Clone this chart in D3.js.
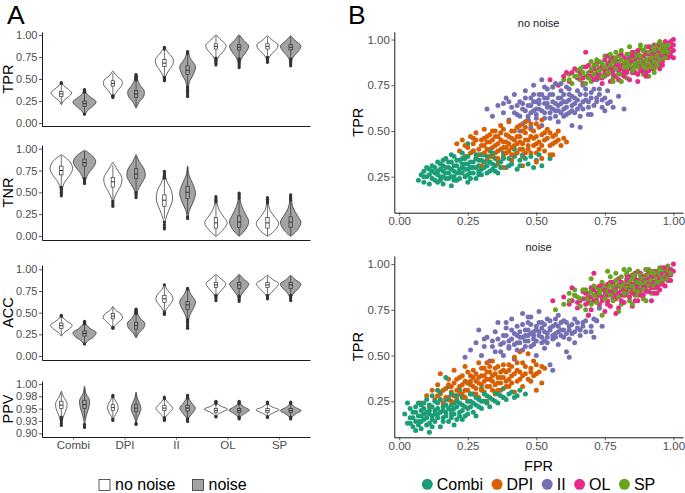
<!DOCTYPE html>
<html>
<head>
<meta charset="utf-8">
<script src="https://cdn.jsdelivr.net/npm/d3@7"></script>
<style>
    body { margin: 0; background: #fff; }
    svg { display: block; }
    text { font-family: "Liberation Sans", Arial, sans-serif; }
</style>
</head>
<body>
<div id="chart"></div>
<script>
'use strict';

/* ---------------- data ---------------- */
const methods = ['Combi', 'DPI', 'II', 'OL', 'SP'];
const conditions = ['no noise', 'noise'];
const unitTicks = [0, 0.25, 0.5, 0.75, 1];
const ppvTicks = [0.9, 0.925, 0.95, 0.975, 1];
const ppvTickLabels = ['0.90', '0.93', '0.95', '0.98', '1.00'];
const fprTicks = [0, 0.25, 0.5, 0.75, 1];
const tprTicks = [0.25, 0.5, 0.75, 1];

// Violins, order: Combi no noise, Combi noise, DPI no noise, DPI noise, ...
// lo/hi = extent, dens = density at 7 even steps lo..hi (1 = widest),
// box = q1, median, q3, whisk = whisker ends, out = outliers
const tprViolins = [
    {lo: .21, hi: .47, dens: [.02, .2, .6, .89, .6, .18, .02], box: [.30, .33, .36], whisk: [.22, .44], out: [.45, .46]},
    {lo: .09, hi: .39, dens: [.02, .25, .7, 1, .55, .15, .02], box: [.19, .22, .25], whisk: [.11, .34], out: [.10, .35, .36, .37, .38]},
    {lo: .28, hi: .59, dens: [.02, .2, .5, .8, .75, .3, .02], box: [.42, .45, .48], whisk: [.33, .57], out: [.29, .30, .31]},
    {lo: .17, hi: .56, dens: [.03, .25, .65, .7, .35, .12, .03], box: [.29, .33, .37], whisk: [.19, .48], out: [.49, .50, .51, .52, .53, .54, .55]},
    {lo: .47, hi: .86, dens: [.02, .12, .4, .72, .75, .35, .03], box: [.64, .68, .72], whisk: [.53, .83], out: [.48, .49, .50, .51, .52, .84, .86]},
    {lo: .29, hi: .82, dens: [.02, .06, .15, .5, .68, .25, .03], box: [.55, .60, .65], whisk: [.42, .78], out: [.30, .32, .34, .36, .38, .40, .41, .79, .80, .81]},
    {lo: .65, hi: 1.0, dens: [.02, .08, .3, .7, .88, .45, .03], box: [.84, .87, .90], whisk: [.76, .99], out: [.66, .68, .70, .72, .74]},
    {lo: .63, hi: 1.0, dens: [.02, .08, .3, .65, .82, .4, .03], box: [.83, .86, .89], whisk: [.74, .99], out: [.63, .65, .67, .69, .71, .73]},
    {lo: .68, hi: .99, dens: [.02, .1, .35, .75, .92, .45, .03], box: [.84, .87, .90], whisk: [.77, .98], out: [.69, .71, .73, .75]},
    {lo: .65, hi: .99, dens: [.02, .08, .3, .7, .88, .42, .03], box: [.83, .86, .89], whisk: [.75, .98], out: [.65, .67, .69, .71, .73]}
];
const tnrViolins = [
    {lo: .45, hi: .93, dens: [.02, .08, .25, .7, .97, .75, .03], box: [.70, .75, .80], whisk: [.58, .92], out: [.46, .48, .50, .52, .54, .56]},
    {lo: .59, hi: .98, dens: [.02, .12, .35, .75, .97, .7, .03], box: [.80, .84, .88], whisk: [.68, .97], out: [.60, .62, .64, .66]},
    {lo: .33, hi: .84, dens: [.02, .08, .35, .7, .77, .4, .03], box: [.56, .62, .67], whisk: [.42, .81], out: [.34, .36, .38, .40]},
    {lo: .43, hi: .93, dens: [.02, .12, .45, .78, .7, .3, .02], box: [.66, .71, .77], whisk: [.52, .92], out: [.44, .46, .48, .50]},
    {lo: .08, hi: .74, dens: [.02, .1, .4, .69, .6, .2, .02], box: [.34, .41, .47], whisk: [.20, .64], out: [.08, .10, .13, .16, .66, .68, .70, .72, .74]},
    {lo: .19, hi: .80, dens: [.02, .15, .5, .68, .45, .12, .02], box: [.43, .50, .57], whisk: [.25, .78], out: [.20, .22]},
    {lo: 0, hi: .46, dens: [.05, .65, .97, .6, .25, .08, .02], box: [.09, .15, .21], whisk: [0, .38], out: [.39, .41, .43, .45]},
    {lo: 0, hi: .50, dens: [.05, .6, .83, .55, .25, .08, .02], box: [.10, .16, .23], whisk: [0, .42], out: [.43, .45, .47, .49]},
    {lo: 0, hi: .44, dens: [.05, .7, .97, .6, .22, .08, .02], box: [.09, .15, .21], whisk: [0, .37], out: [.38, .40, .42, .44]},
    {lo: 0, hi: .48, dens: [.05, .65, .88, .55, .22, .08, .02], box: [.10, .16, .22], whisk: [0, .40], out: [.41, .43, .45, .47]}
];
const accViolins = [
    {lo: .23, hi: .48, dens: [.02, .25, .7, .93, .55, .15, .02], box: [.32, .35, .38], whisk: [.24, .45], out: [.46, .47]},
    {lo: .13, hi: .41, dens: [.02, .3, .8, 1, .5, .15, .02], box: [.23, .26, .29], whisk: [.15, .36], out: [.14, .37, .38, .39, .40]},
    {lo: .31, hi: .57, dens: [.02, .2, .55, .83, .7, .25, .02], box: [.43, .46, .49], whisk: [.34, .56], out: [.32, .33]},
    {lo: .21, hi: .55, dens: [.02, .25, .65, .75, .35, .12, .03], box: [.31, .35, .39], whisk: [.22, .48], out: [.49, .50, .51, .52, .53, .54]},
    {lo: .47, hi: .83, dens: [.02, .12, .45, .73, .6, .2, .02], box: [.62, .66, .70], whisk: [.53, .80], out: [.48, .49, .50, .51, .82]},
    {lo: .31, hi: .79, dens: [.02, .06, .18, .5, .68, .3, .03], box: [.54, .59, .63], whisk: [.43, .76], out: [.32, .34, .36, .38, .40, .42, .77, .78]},
    {lo: .63, hi: .94, dens: [.02, .08, .3, .65, .85, .45, .03], box: [.79, .82, .85], whisk: [.71, .93], out: [.64, .66, .68, .70]},
    {lo: .62, hi: .94, dens: [.02, .08, .3, .62, .83, .4, .03], box: [.78, .82, .85], whisk: [.70, .93], out: [.63, .65, .67, .69]},
    {lo: .65, hi: .93, dens: [.02, .1, .4, .75, .96, .45, .03], box: [.79, .82, .85], whisk: [.72, .92], out: [.66, .68, .70]},
    {lo: .64, hi: .93, dens: [.02, .1, .35, .7, .88, .4, .03], box: [.78, .82, .85], whisk: [.71, .92], out: [.64, .66, .68, .70]}
];
const ppvViolins = [
    {lo: .915, hi: .985, dens: [.02, .08, .25, .45, .48, .2, .02], box: [.950, .957, .965], whisk: [.935, .982], out: [.916, .920, .925, .928, .931, .933]},
    {lo: .912, hi: .995, dens: [.02, .06, .2, .38, .42, .12, .02], box: [.950, .958, .967], whisk: [.930, .990], out: [.912, .915, .918]},
    {lo: .925, hi: .979, dens: [.02, .12, .35, .46, .35, .12, .02], box: [.946, .952, .958], whisk: [.932, .972], out: [.926, .929, .974, .977]},
    {lo: .917, hi: .983, dens: [.02, .08, .28, .42, .3, .1, .02], box: [.944, .951, .959], whisk: [.925, .980], out: [.918, .920]},
    {lo: .925, hi: .976, dens: [.02, .12, .45, .72, .45, .12, .02], box: [.946, .951, .956], whisk: [.935, .968], out: [.926, .928, .930, .932, .970, .973]},
    {lo: .923, hi: .979, dens: [.02, .12, .45, .67, .4, .12, .02], box: [.945, .951, .957], whisk: [.933, .968], out: [.924, .927, .930, .971, .974, .977]},
    {lo: .932, hi: .966, dens: [.02, .15, .55, 1, .45, .12, .02], box: [.942, .946, .950], whisk: [.936, .958], out: [.933, .934, .960, .963, .965]},
    {lo: .928, hi: .966, dens: [.02, .15, .5, .88, .45, .12, .02], box: [.942, .946, .950], whisk: [.935, .958], out: [.929, .931, .933, .960, .963, .965]},
    {lo: .931, hi: .964, dens: [.02, .15, .55, 1, .45, .12, .02], box: [.942, .946, .950], whisk: [.936, .957], out: [.932, .934, .960, .963]},
    {lo: .928, hi: .964, dens: [.02, .15, .5, .9, .45, .12, .02], box: [.942, .946, .950], whisk: [.935, .957], out: [.929, .931, .933, .960, .963]}
];

// Scatter points [FPR, TPR] (a sample of each)
const combiNoNoise = [[.07,.23],[.08,.26],[.09,.28],[.10,.25],[.09,.22],[.11,.29],[.12,.24],[.12,.31],[.13,.27],[.14,.22],[.14,.33],[.15,.29],[.15,.25],[.16,.31],[.16,.21],[.17,.27],[.17,.35],[.18,.24],[.18,.30],[.19,.33],[.19,.20],[.20,.28],[.20,.36],[.20,.25],[.21,.31],[.21,.23],[.22,.34],[.22,.27],[.23,.38],[.23,.30],[.24,.25],[.24,.32],[.25,.29],[.25,.36],[.25,.22],[.26,.33],[.26,.27],[.27,.30],[.27,.39],[.28,.24],[.28,.35],[.29,.31],[.29,.28],[.30,.34],[.30,.26],[.31,.37],[.31,.30],[.32,.27],[.33,.33],[.33,.40],[.34,.29],[.35,.35],[.35,.31],[.36,.27],[.37,.33],[.38,.38],[.39,.30],[.40,.35],[.41,.32],[.42,.40],[.43,.29],[.44,.34],[.45,.37],[.47,.32],[.48,.36],[.50,.34],[.52,.31],[.55,.35],[.25,.43],
    [.10,.30],[.11,.26],[.12,.28],[.13,.23],[.13,.30],[.14,.26],[.15,.32],[.15,.23],[.16,.28],[.16,.34],[.17,.24],[.17,.30],[.18,.27],[.18,.33],[.19,.25],[.19,.29],[.20,.31],[.20,.23],[.21,.27],[.21,.34],[.22,.29],[.22,.24],[.23,.32],[.23,.27],[.24,.29],[.24,.35],[.25,.26],[.25,.32],[.26,.30],[.26,.24],[.27,.33],[.27,.27],[.28,.30],[.28,.37],[.29,.26],[.29,.34],[.30,.29],[.30,.37],[.31,.33],[.32,.31],[.32,.36],[.33,.28],[.34,.32],[.34,.38],[.35,.28],[.36,.34],[.37,.30],[.38,.35],[.40,.31],[.42,.36],[.44,.31],[.46,.35],[.49,.30],[.51,.37],[.09,.25],[.11,.21],[.16,.25],[.23,.35],[.19,.37],[.14,.28]];
const dpiNoNoise = [[.21,.43],[.22,.39],[.23,.45],[.24,.36],[.25,.41],[.26,.47],[.26,.38],[.27,.43],[.28,.35],[.28,.49],[.29,.40],[.30,.45],[.30,.37],[.31,.42],[.31,.51],[.32,.34],[.32,.47],[.33,.39],[.33,.44],[.34,.50],[.34,.36],[.35,.42],[.35,.47],[.36,.32],[.36,.39],[.37,.45],[.37,.53],[.38,.41],[.38,.36],[.39,.48],[.39,.44],[.40,.39],[.40,.55],[.41,.46],[.41,.34],[.42,.42],[.42,.50],[.43,.38],[.43,.47],[.44,.44],[.44,.53],[.45,.40],[.45,.36],[.46,.49],[.46,.45],[.47,.42],[.47,.56],[.48,.38],[.48,.51],[.49,.46],[.50,.43],[.50,.54],[.51,.40],[.52,.48],[.52,.35],[.53,.45],[.54,.51],[.55,.42],[.55,.37],[.56,.47],[.57,.44],[.58,.50],[.59,.42],[.60,.46],[.61,.44],[.45,.31],[.38,.30],[.30,.31],[.56,.37],[.50,.33],
    [.24,.42],[.27,.39],[.28,.45],[.29,.37],[.30,.42],[.31,.46],[.32,.40],[.32,.44],[.33,.36],[.33,.48],[.34,.41],[.34,.45],[.35,.38],[.35,.50],[.36,.43],[.36,.47],[.37,.40],[.37,.49],[.38,.44],[.38,.51],[.39,.38],[.39,.41],[.40,.47],[.40,.43],[.41,.50],[.41,.41],[.42,.37],[.42,.45],[.43,.52],[.43,.43],[.44,.40],[.44,.47],[.45,.43],[.45,.50],[.46,.38],[.46,.52],[.47,.45],[.47,.40],[.48,.47],[.48,.54],[.49,.42],[.49,.50],[.50,.47],[.50,.38],[.51,.44],[.51,.52],[.52,.42],[.53,.49],[.53,.39],[.54,.46],[.55,.49],[.56,.43],[.57,.48],[.58,.45],[.36,.35],[.41,.37],[.31,.38],[.27,.46],[.46,.55],[.52,.56]];
const iiNoNoise = [[.32,.62],[.34,.58],[.36,.64],[.38,.60],[.39,.68],[.40,.56],[.41,.63],[.42,.70],[.43,.59],[.44,.66],[.45,.62],[.45,.54],[.46,.72],[.47,.64],[.47,.58],[.48,.68],[.49,.61],[.49,.75],[.50,.57],[.50,.66],[.51,.70],[.51,.62],[.52,.78],[.52,.53],[.53,.65],[.53,.60],[.54,.73],[.54,.68],[.55,.63],[.55,.57],[.56,.70],[.56,.66],[.57,.61],[.57,.76],[.58,.64],[.58,.55],[.59,.68],[.59,.72],[.60,.62],[.60,.58],[.61,.66],[.61,.74],[.62,.70],[.62,.60],[.63,.64],[.63,.53],[.64,.68],[.65,.72],[.65,.62],[.66,.58],[.67,.66],[.67,.75],[.68,.70],[.69,.63],[.70,.68],[.70,.59],[.71,.73],[.72,.66],[.73,.70],[.74,.63],[.75,.68],[.76,.72],[.77,.66],[.78,.63],[.80,.69],[.82,.62],[.44,.50],[.48,.52],[.66,.52],[.72,.78],
    [.42,.60],[.43,.64],[.44,.58],[.45,.65],[.46,.61],[.46,.68],[.47,.56],[.48,.64],[.48,.60],[.49,.66],[.49,.70],[.50,.62],[.50,.59],[.51,.65],[.51,.67],[.52,.61],[.52,.70],[.53,.57],[.53,.68],[.54,.63],[.54,.65],[.55,.60],[.55,.70],[.56,.62],[.56,.74],[.57,.65],[.57,.58],[.58,.68],[.58,.61],[.59,.65],[.59,.60],[.60,.70],[.60,.66],[.61,.63],[.61,.59],[.62,.67],[.62,.73],[.63,.61],[.63,.69],[.64,.65],[.64,.60],[.65,.67],[.66,.70],[.66,.64],[.67,.62],[.68,.67],[.68,.73],[.69,.66],[.70,.71],[.71,.64],[.72,.68],[.73,.73],[.74,.67],[.76,.65],[.40,.66],[.38,.65],[.53,.74],[.59,.76],[.69,.59],[.75,.61]];
const olNoNoise = [[.55,.78],[.58,.75],[.60,.80],[.61,.82],[.62,.77],[.64,.84],[.65,.79],[.66,.81],[.67,.76],[.68,.93],[.68,.85],[.69,.80],[.70,.83],[.71,.78],[.72,.87],[.72,.81],[.73,.84],[.74,.79],[.75,.89],[.75,.82],[.76,.86],[.77,.77],[.77,.84],[.78,.90],[.78,.81],[.79,.87],[.80,.83],[.80,.78],[.81,.92],[.81,.86],[.82,.80],[.83,.89],[.83,.84],[.84,.87],[.84,.78],[.85,.93],[.85,.82],[.86,.89],[.86,.85],[.87,.81],[.88,.91],[.88,.86],[.89,.94],[.89,.83],[.90,.89],[.90,.80],[.91,.92],[.91,.86],[.92,.95],[.92,.84],[.93,.89],[.93,.97],[.94,.91],[.94,.86],[.95,.94],[.95,.88],[.96,.97],[.96,.92],[.97,.90],[.97,.95],[.98,.98],[.98,.93],[.99,.96],[1.0,1.0],[1.0,.94],[1.0,.90],[.99,.99],[.74,.76],[.87,.77],[.95,.84],
    [.66,.83],[.69,.86],[.70,.80],[.71,.84],[.73,.81],[.74,.86],[.75,.84],[.76,.81],[.77,.88],[.78,.83],[.79,.85],[.79,.80],[.80,.88],[.81,.84],[.82,.90],[.82,.82],[.83,.86],[.84,.84],[.84,.91],[.85,.89],[.86,.87],[.86,.82],[.87,.92],[.87,.85],[.88,.89],[.88,.83],[.89,.87],[.89,.91],[.90,.85],[.90,.93],[.91,.89],[.91,.83],[.92,.88],[.92,.92],[.93,.86],[.93,.93],[.94,.89],[.94,.94],[.95,.91],[.95,.97],[.96,.88],[.96,.94],[.97,.92],[.97,.99],[.98,.95],[.98,.90],[.99,.93],[1.0,.97],[.99,.91],[.76,.91],[.80,.86],[.83,.82],[.85,.91],[.72,.79],[.67,.79],[.63,.82],[.90,.82],[.96,.86],[.91,.96],[.87,.94]];
const spNoNoise = [[.56,.74],[.60,.78],[.62,.81],[.63,.76],[.65,.83],[.66,.78],[.67,.85],[.68,.80],[.69,.82],[.70,.77],[.71,.86],[.72,.83],[.73,.79],[.73,.88],[.74,.84],[.75,.80],[.76,.87],[.76,.83],[.77,.90],[.78,.85],[.78,.79],[.79,.88],[.80,.84],[.80,.91],[.81,.81],[.82,.87],[.82,.84],[.83,.92],[.83,.79],[.84,.89],[.85,.85],[.85,.88],[.86,.82],[.86,.93],[.87,.87],[.87,.90],[.88,.84],[.88,.95],[.89,.88],[.89,.81],[.90,.92],[.90,.86],[.91,.89],[.91,.80],[.92,.93],[.92,.87],[.93,.91],[.93,.84],[.94,.95],[.94,.89],[.95,.92],[.95,.86],[.96,.95],[.96,.90],[.97,.93],[.97,.97],[.98,.95],[.98,.91],[.79,.93],[.84,.96],[.70,.88],[.64,.80],[.75,.91],[.81,.77],[.90,.96],[.93,.82],[.68,.76],[.77,.82],[.86,.85],[.94,.97],
    [.62,.78],[.65,.80],[.67,.82],[.69,.79],[.70,.84],[.71,.81],[.72,.86],[.73,.83],[.74,.87],[.75,.85],[.76,.82],[.77,.86],[.78,.88],[.79,.84],[.80,.87],[.80,.81],[.81,.89],[.82,.85],[.83,.88],[.83,.85],[.84,.92],[.84,.86],[.85,.90],[.86,.87],[.86,.91],[.87,.85],[.87,.93],[.88,.88],[.88,.91],[.89,.86],[.89,.94],[.90,.89],[.90,.84],[.91,.93],[.91,.87],[.92,.90],[.92,.96],[.93,.88],[.93,.94],[.94,.91],[.94,.86],[.95,.95],[.95,.89],[.96,.93],[.96,.97],[.97,.90],[.97,.95],[.98,.93],[.98,.97],[.72,.89],[.77,.92],[.81,.94],[.66,.84],[.74,.80],[.79,.90],[.85,.83],[.92,.85],[.88,.97],[.78,.77],[.95,.99]];

const combiNoise = [[.02,.18],[.03,.13],[.04,.21],[.05,.16],[.05,.11],[.06,.19],[.07,.14],[.07,.24],[.08,.17],[.08,.10],[.09,.21],[.09,.15],[.10,.26],[.10,.19],[.11,.13],[.11,.23],[.12,.17],[.12,.28],[.13,.20],[.13,.14],[.14,.24],[.14,.18],[.15,.11],[.15,.30],[.16,.22],[.16,.16],[.17,.26],[.17,.19],[.18,.14],[.18,.33],[.19,.23],[.19,.18],[.20,.28],[.20,.21],[.21,.15],[.21,.25],[.22,.31],[.22,.19],[.23,.23],[.24,.27],[.24,.17],[.25,.21],[.25,.35],[.26,.25],[.27,.19],[.27,.29],[.28,.23],[.29,.26],[.30,.21],[.30,.32],[.31,.25],[.32,.28],[.33,.22],[.34,.26],[.35,.30],[.36,.24],[.37,.28],[.38,.32],[.39,.26],[.40,.29],[.42,.27],[.44,.31],[.46,.29],[.17,.38],[.11,.08],[.06,.09],[.03,.24],[.20,.12],[.14,.31],[.28,.17],
    [.04,.16],[.05,.19],[.06,.14],[.06,.22],[.07,.17],[.07,.12],[.08,.20],[.08,.14],[.09,.18],[.09,.24],[.10,.16],[.10,.12],[.11,.20],[.11,.18],[.12,.15],[.12,.22],[.13,.18],[.13,.25],[.14,.16],[.14,.21],[.15,.19],[.15,.26],[.16,.14],[.16,.20],[.17,.23],[.17,.17],[.18,.21],[.18,.26],[.19,.16],[.19,.20],[.20,.24],[.20,.18],[.21,.22],[.21,.28],[.22,.17],[.22,.24],[.23,.20],[.23,.27],[.24,.22],[.25,.25],[.25,.18],[.26,.22],[.26,.29],[.27,.24],[.28,.27],[.29,.22],[.30,.25],[.31,.29],[.32,.24],[.33,.27],[.35,.25],[.36,.29],[.38,.27],[.41,.30],[.43,.28],[.08,.23],[.04,.13],[.12,.11],[.19,.29],[.23,.15]];
const dpiNoise = [[.08,.24],[.10,.28],[.11,.22],[.12,.31],[.13,.26],[.14,.34],[.15,.29],[.15,.40],[.16,.24],[.17,.32],[.18,.37],[.18,.27],[.19,.30],[.20,.35],[.20,.42],[.21,.26],[.22,.33],[.22,.38],[.23,.29],[.24,.36],[.24,.44],[.25,.31],[.25,.25],[.26,.39],[.26,.34],[.27,.29],[.27,.42],[.28,.36],[.28,.32],[.29,.46],[.29,.27],[.30,.39],[.30,.34],[.31,.43],[.31,.30],[.32,.37],[.32,.25],[.33,.41],[.33,.33],[.34,.47],[.34,.36],[.35,.29],[.35,.40],[.36,.35],[.36,.44],[.37,.31],[.37,.38],[.38,.42],[.38,.27],[.39,.36],[.40,.45],[.40,.33],[.41,.39],[.42,.49],[.42,.30],[.43,.42],[.44,.37],[.45,.46],[.45,.33],[.46,.40],[.47,.51],[.48,.43],[.48,.36],[.49,.39],[.50,.45],[.51,.41],[.52,.35],[.53,.43],[.50,.31],[.44,.52],
    [.14,.28],[.16,.31],[.17,.27],[.18,.34],[.19,.33],[.20,.28],[.21,.31],[.21,.37],[.22,.29],[.23,.34],[.23,.39],[.24,.31],[.25,.35],[.25,.41],[.26,.29],[.26,.36],[.27,.33],[.27,.38],[.28,.40],[.28,.29],[.29,.35],[.29,.38],[.30,.31],[.30,.43],[.31,.36],[.31,.39],[.32,.33],[.32,.41],[.33,.37],[.33,.44],[.34,.31],[.34,.39],[.35,.34],[.35,.43],[.36,.38],[.36,.31],[.37,.41],[.37,.35],[.38,.45],[.38,.38],[.39,.33],[.39,.41],[.40,.37],[.40,.42],[.41,.35],[.41,.44],[.42,.40],[.43,.36],[.43,.46],[.44,.41],[.45,.39],[.46,.44],[.47,.37],[.48,.41],[.49,.47],[.50,.40],[.52,.44],[.19,.25],[.24,.27],[.32,.46]];
const iiNoise = [[.24,.49],[.26,.53],[.28,.57],[.29,.64],[.30,.50],[.31,.55],[.32,.60],[.33,.47],[.34,.58],[.35,.63],[.35,.52],[.36,.68],[.37,.56],[.38,.61],[.38,.50],[.39,.65],[.40,.58],[.40,.54],[.41,.70],[.42,.62],[.42,.48],[.43,.57],[.43,.66],[.44,.60],[.45,.73],[.45,.53],[.46,.64],[.46,.58],[.47,.68],[.47,.61],[.48,.55],[.48,.71],[.49,.63],[.49,.59],[.50,.66],[.50,.50],[.51,.61],[.51,.74],[.52,.57],[.52,.68],[.53,.63],[.53,.54],[.54,.70],[.54,.60],[.55,.65],[.55,.45],[.56,.59],[.57,.67],[.57,.62],[.58,.72],[.58,.56],[.59,.64],[.60,.69],[.60,.60],[.61,.52],[.62,.66],[.63,.62],[.64,.70],[.64,.57],[.65,.65],[.66,.61],[.67,.68],[.68,.63],[.69,.72],[.70,.66],[.71,.60],[.72,.69],[.73,.76],[.62,.49],[.56,.42],
    [.34,.55],[.36,.59],[.37,.52],[.38,.57],[.39,.61],[.40,.55],[.41,.59],[.41,.64],[.42,.56],[.43,.61],[.43,.53],[.44,.63],[.44,.57],[.45,.60],[.45,.67],[.46,.55],[.46,.61],[.47,.64],[.47,.58],[.48,.62],[.48,.67],[.49,.56],[.49,.61],[.50,.64],[.50,.58],[.51,.68],[.51,.63],[.52,.60],[.52,.65],[.53,.58],[.53,.67],[.54,.62],[.54,.57],[.55,.64],[.55,.69],[.56,.61],[.56,.66],[.57,.60],[.57,.70],[.58,.63],[.58,.66],[.59,.61],[.59,.68],[.60,.64],[.61,.62],[.61,.68],[.62,.64],[.62,.59],[.63,.67],[.64,.63],[.65,.68],[.66,.64],[.67,.66],[.68,.69],[.70,.63],[.71,.70],[.74,.66],[.31,.59],[.39,.68],[.47,.71]];
const olNoise = [[.56,.80],[.60,.82],[.62,.78],[.64,.83],[.65,.76],[.66,.80],[.67,.85],[.68,.78],[.69,.82],[.70,.75],[.70,.87],[.71,.95],[.71,.80],[.72,.84],[.72,.69],[.73,.78],[.74,.88],[.74,.82],[.75,.74],[.75,.85],[.76,.80],[.77,.90],[.77,.77],[.78,.84],[.78,.87],[.79,.81],[.80,.92],[.80,.76],[.81,.86],[.81,.83],[.82,.89],[.82,.79],[.83,.94],[.83,.85],[.84,.82],[.84,.90],[.85,.87],[.85,.77],[.86,.92],[.86,.84],[.87,.89],[.87,.80],[.88,.95],[.88,.86],[.89,.91],[.89,.83],[.90,.88],[.90,.97],[.91,.85],[.91,.93],[.92,.90],[.92,.80],[.93,.96],[.93,.87],[.94,.92],[.94,.84],[.95,.95],[.95,.89],[.96,.98],[.96,.92],[.97,.88],[.97,.95],[.98,.97],[.98,.91],[.99,.94],[1.0,1.0],[1.0,.96],[.69,.72],[.79,.73],[.63,.87],
    [.63,.80],[.65,.79],[.67,.81],[.68,.84],[.69,.79],[.70,.82],[.71,.86],[.72,.80],[.73,.83],[.73,.88],[.74,.80],[.75,.86],[.76,.83],[.76,.89],[.77,.85],[.78,.81],[.78,.90],[.79,.86],[.79,.83],[.80,.88],[.80,.84],[.81,.90],[.82,.86],[.82,.83],[.83,.88],[.83,.91],[.84,.86],[.84,.93],[.85,.89],[.85,.84],[.86,.88],[.86,.95],[.87,.91],[.87,.86],[.88,.89],[.88,.83],[.89,.93],[.89,.87],[.90,.91],[.90,.85],[.91,.89],[.91,.95],[.92,.87],[.92,.93],[.93,.90],[.93,.84],[.94,.94],[.94,.88],[.95,.92],[.95,.86],[.96,.95],[.96,.89],[.97,.93],[.97,.98],[.98,.94],[.99,.97],[.99,.91],[.76,.78],[.81,.80],[.86,.80]];
const spNoise = [[.57,.75],[.60,.78],[.62,.84],[.63,.80],[.65,.82],[.66,.77],[.67,.86],[.68,.81],[.69,.84],[.70,.79],[.71,.88],[.72,.82],[.73,.86],[.73,.76],[.74,.90],[.75,.83],[.76,.87],[.76,.79],[.77,.93],[.78,.85],[.78,.81],[.79,.95],[.79,.88],[.80,.84],[.81,.90],[.81,.78],[.82,.86],[.83,.92],[.83,.83],[.84,.88],[.84,.80],[.85,.94],[.85,.86],[.86,.90],[.86,.83],[.87,.96],[.87,.88],[.88,.85],[.88,.92],[.89,.89],[.89,.81],[.90,.94],[.90,.86],[.91,.91],[.91,.97],[.92,.88],[.92,.84],[.93,.93],[.93,.90],[.94,.96],[.94,.87],[.95,.92],[.95,.98],[.96,.90],[.96,.94],[.97,.97],[.97,.92],[.98,.95],[.98,.99],[.99,.97],[.74,.72],[.80,.74],[.70,.92],[.64,.86],[.85,.78],[.76,.96],[.82,.97],[.68,.75],[.90,.80],[.87,.83],
    [.62,.80],[.64,.83],[.66,.81],[.68,.86],[.69,.81],[.70,.85],[.71,.83],[.72,.87],[.72,.79],[.73,.84],[.74,.86],[.75,.88],[.75,.81],[.76,.85],[.77,.89],[.77,.83],[.78,.87],[.79,.91],[.79,.85],[.80,.89],[.80,.82],[.81,.87],[.81,.93],[.82,.89],[.82,.84],[.83,.87],[.83,.95],[.84,.90],[.84,.85],[.85,.92],[.85,.88],[.86,.86],[.86,.94],[.87,.90],[.87,.85],[.88,.94],[.88,.89],[.89,.92],[.89,.86],[.90,.90],[.90,.97],[.91,.88],[.91,.94],[.92,.91],[.92,.96],[.93,.88],[.93,.95],[.94,.92],[.94,.90],[.95,.95],[.95,.90],[.96,.92],[.96,.97],[.97,.94],[.98,.97],[.98,.92],[.99,.95],[.70,.78],[.78,.80],[.84,.97]];

/* ---------------- style ---------------- */
const methodColors = ['#1b9e77', '#d95f02', '#7570b3', '#e7298a', '#66a61e'];
const condFill = ['#ffffff', '#a3a3a3'];
const ink = '#333333';
const tickInk = '#4d4d4d';

/* ---------------- svg ---------------- */
const svg = d3.select('#chart')
    .append('svg')
    .attr('width', 685)
    .attr('height', 493);

svg.append('rect').attr('width', 685).attr('height', 493).attr('fill', '#fff');

/* ``````````````````````````````````````\
    Helpers
 ````````````````````````````````````````*/
function styleAxis(g, size) {
    g.selectAll('path.domain').attr('stroke', '#000').attr('stroke-width', 0.9);
    g.selectAll('.tick line').attr('stroke', ink).attr('stroke-width', 0.8);
    g.selectAll('.tick text')
        .attr('fill', tickInk)
        .style('font-family', '"Liberation Sans", Arial, sans-serif')
        .style('font-size', `${size}px`);
}

/* ``````````````````````````````````````\
    Class: ViolinPanel
 ````````````````````````````````````````*/
class ViolinPanel {

    constructor(_layout, _violins, _title, _ticks, _tickLabels, _showX) {
        this.layout = _layout;
        this.violins = _violins;
        this.title = _title;
        this.ticks = _ticks;
        this.tickLabels = _tickLabels;
        this.showX = _showX;
        this.initVis();
    }

    initVis() {
        const vis = this;
        const L = vis.layout;

        vis.g = svg.append('g');

        // Scales
        vis.x = d3.scalePoint().domain(methods).range([42, 310]).padding(0.6);
        vis.y = d3.scaleLinear().domain(L.domain).range([L.bottom, L.top]);
        vis.dodge = vis.x.step() * 0.225;
        vis.w = d3.scaleLinear().domain([0, 1]).range([0, vis.x.step() * 0.225]);
        vis.boxW = vis.x.step() * 0.066;

        // Axes
        const yAxis = d3.axisLeft(vis.y)
            .tickValues(vis.ticks)
            .tickSize(3)
            .tickSizeOuter(0)
            .tickPadding(1.5)
            .tickFormat((d, i) => vis.tickLabels ? vis.tickLabels[i] : d3.format('.2f')(d));
        vis.g.append('g')
            .attr('transform', 'translate(42,0)')
            .call(yAxis)
            .call(g => styleAxis(g, 11));

        const xAxis = d3.axisBottom(vis.x)
            .tickValues(vis.showX ? methods : [])
            .tickSize(2.5)
            .tickSizeOuter(0)
            .tickPadding(1.2);
        vis.g.append('g')
            .attr('transform', `translate(0,${L.bottom})`)
            .call(xAxis)
            .call(g => styleAxis(g, 11.5));

        // Title
        vis.g.append('text')
            .attr('transform', `translate(12.5,${(L.top + L.bottom) / 2}) rotate(-90)`)
            .attr('text-anchor', 'middle')
            .attr('font-size', 14.5)
            .attr('fill', '#000')
            .text(vis.title);

        vis.updateVis();
    }

    updateVis() {
        const vis = this;

        vis.violins.forEach((v, i) => {
            const method = methods[Math.floor(i / 2)];
            const cond = i % 2;
            const cx = vis.x(method) + (cond ? vis.dodge : -vis.dodge);
            const profile = v.dens.map((d, k) => ({v: v.lo + (v.hi - v.lo) * k / (v.dens.length - 1), d: d}));

            const area = d3.area()
                .curve(d3.curveCatmullRom.alpha(0.5))
                .y(p => vis.y(p.v))
                .x0(p => cx - vis.w(p.d))
                .x1(p => cx + vis.w(p.d));

            const vg = vis.g.append('g').attr('class', 'violin');

            // Violin body
            vg.append('path')
                .attr('d', area(profile))
                .attr('fill', condFill[cond])
                .attr('stroke', ink)
                .attr('stroke-width', 0.75);

            // Whisker
            vg.append('line')
                .attr('x1', cx).attr('x2', cx)
                .attr('y1', vis.y(v.whisk[0])).attr('y2', vis.y(v.whisk[1]))
                .attr('stroke', ink)
                .attr('stroke-width', 0.7);

            // Box
            vg.append('rect')
                .attr('x', cx - vis.boxW / 2)
                .attr('width', vis.boxW)
                .attr('y', vis.y(v.box[2]))
                .attr('height', vis.y(v.box[0]) - vis.y(v.box[2]))
                .attr('fill', condFill[cond])
                .attr('stroke', ink)
                .attr('stroke-width', 0.7);

            // Median
            vg.append('line')
                .attr('x1', cx - vis.boxW / 2).attr('x2', cx + vis.boxW / 2)
                .attr('y1', vis.y(v.box[1])).attr('y2', vis.y(v.box[1]))
                .attr('stroke', ink)
                .attr('stroke-width', 1);

            // Outliers
            vg.selectAll('.out')
                .data(v.out)
                .join('circle')
                .attr('class', 'out')
                .attr('cx', cx)
                .attr('cy', d => vis.y(d))
                .attr('r', 1.6)
                .attr('fill', ink);
        });
    }
}

/* ``````````````````````````````````````\
    Class: ScatterPanel
 ````````````````````````````````````````*/
class ScatterPanel {

    constructor(_layout, _groups, _title, _showXTitle) {
        this.layout = _layout;
        this.groups = _groups;
        this.title = _title;
        this.showXTitle = _showXTitle;
        this.initVis();
    }

    initVis() {
        const vis = this;
        const L = vis.layout;

        vis.g = svg.append('g');

        // Scales
        vis.x = d3.scaleLinear().domain([-0.018, 1.035]).range([394.3, 683]);
        vis.y = d3.scaleLinear().domain(L.yDomain).range([L.bottom, L.top]);

        // Axes
        vis.g.append('g')
            .attr('transform', `translate(0,${L.bottom})`)
            .call(d3.axisBottom(vis.x).tickValues(fprTicks).tickFormat(d3.format('.2f'))
                .tickSize(3).tickSizeOuter(0).tickPadding(1.5))
            .call(g => styleAxis(g, 11.5));
        vis.g.append('g')
            .attr('transform', 'translate(394.3,0)')
            .call(d3.axisLeft(vis.y).tickValues(tprTicks).tickFormat(d3.format('.2f'))
                .tickSize(3).tickSizeOuter(0).tickPadding(1.5))
            .call(g => styleAxis(g, 11.5));

        // Titles
        vis.g.append('text')
            .attr('x', 538.6).attr('y', L.top - 5)
            .attr('text-anchor', 'middle')
            .attr('font-size', 11)
            .attr('fill', '#1a1a1a')
            .text(vis.title);
        vis.g.append('text')
            .attr('transform', `translate(362.5,${(L.top + L.bottom) / 2}) rotate(-90)`)
            .attr('text-anchor', 'middle')
            .attr('font-size', 14.5)
            .attr('fill', '#000')
            .text('TPR');
        if (vis.showXTitle) {
            vis.g.append('text')
                .attr('x', 538.6).attr('y', 471)
                .attr('text-anchor', 'middle')
                .attr('font-size', 14.5)
                .attr('fill', '#000')
                .text('FPR');
        }

        vis.wrangleData();
    }

    wrangleData() {
        const vis = this;

        // Interleave the methods so overlapping clouds mix
        vis.displayData = [];
        const n = d3.max(vis.groups, g => g.length);
        for (let i = 0; i < n; i++) {
            vis.groups.forEach((g, m) => {
                if (i < g.length) vis.displayData.push({m: m, fpr: g[i][0], tpr: g[i][1]});
            });
        }

        vis.updateVis();
    }

    updateVis() {
        const vis = this;

        vis.g.append('g')
            .selectAll('circle')
            .data(vis.displayData)
            .join('circle')
            .attr('cx', d => vis.x(d.fpr))
            .attr('cy', d => vis.y(d.tpr))
            .attr('r', 2.5)
            .attr('fill', d => methodColors[d.m]);
    }
}

/* ---------------- panel A ---------------- */
new ViolinPanel({top: 32, bottom: 126, domain: [-0.034, 1.034]}, tprViolins, 'TPR', unitTicks, null, false);
new ViolinPanel({top: 145, bottom: 240, domain: [-0.046, 1.042]}, tnrViolins, 'TNR', unitTicks, null, false);
new ViolinPanel({top: 265, bottom: 360, domain: [-0.046, 1.05]}, accViolins, 'ACC', unitTicks, null, false);
new ViolinPanel({top: 381, bottom: 437, domain: [0.8925, 1.006]}, ppvViolins, 'PPV', ppvTicks, ppvTickLabels, true);

/* ---------------- panel B ---------------- */
new ScatterPanel({top: 31.7, bottom: 212.7, yDomain: [0.053, 1.043]},
    [combiNoNoise, dpiNoNoise, iiNoNoise, olNoNoise, spNoNoise], 'no noise', false);
new ScatterPanel({top: 256, bottom: 437.3, yDomain: [0.053, 1.044]},
    [combiNoise, dpiNoise, iiNoise, olNoise, spNoise], 'noise', true);

/* ---------------- panel labels ---------------- */
svg.append('text').attr('x', 7).attr('y', 24).attr('font-size', 26.5).text('A');
svg.append('text').attr('x', 348).attr('y', 24).attr('font-size', 26.5).text('B');

/* ---------------- legend A ---------------- */
const legA = svg.append('g').attr('class', 'legendA');
let lx = 99;
conditions.forEach((c, i) => {
    legA.append('rect')
        .attr('x', lx).attr('y', 479.5)
        .attr('width', 11).attr('height', 11)
        .attr('fill', condFill[i])
        .attr('stroke', ink)
        .attr('stroke-width', 0.8);
    const t = legA.append('text')
        .attr('x', lx + 16).attr('y', 489.6)
        .attr('font-size', 16)
        .attr('fill', '#000')
        .text(c);
    lx += 16 + t.node().getComputedTextLength() + 17;
});

/* ---------------- legend B ---------------- */
const legB = svg.append('g').attr('class', 'legendB');
let bx = 427.3;
methods.forEach((m, i) => {
    legB.append('circle')
        .attr('cx', bx).attr('cy', 484.3)
        .attr('r', 5.5)
        .attr('fill', methodColors[i]);
    const t = legB.append('text')
        .attr('x', bx + 9.5).attr('y', 489.6)
        .attr('font-size', 16)
        .attr('fill', '#000')
        .text(m);
    bx += 9.5 + t.node().getComputedTextLength() + 14;
});
</script>
</body>
</html>
